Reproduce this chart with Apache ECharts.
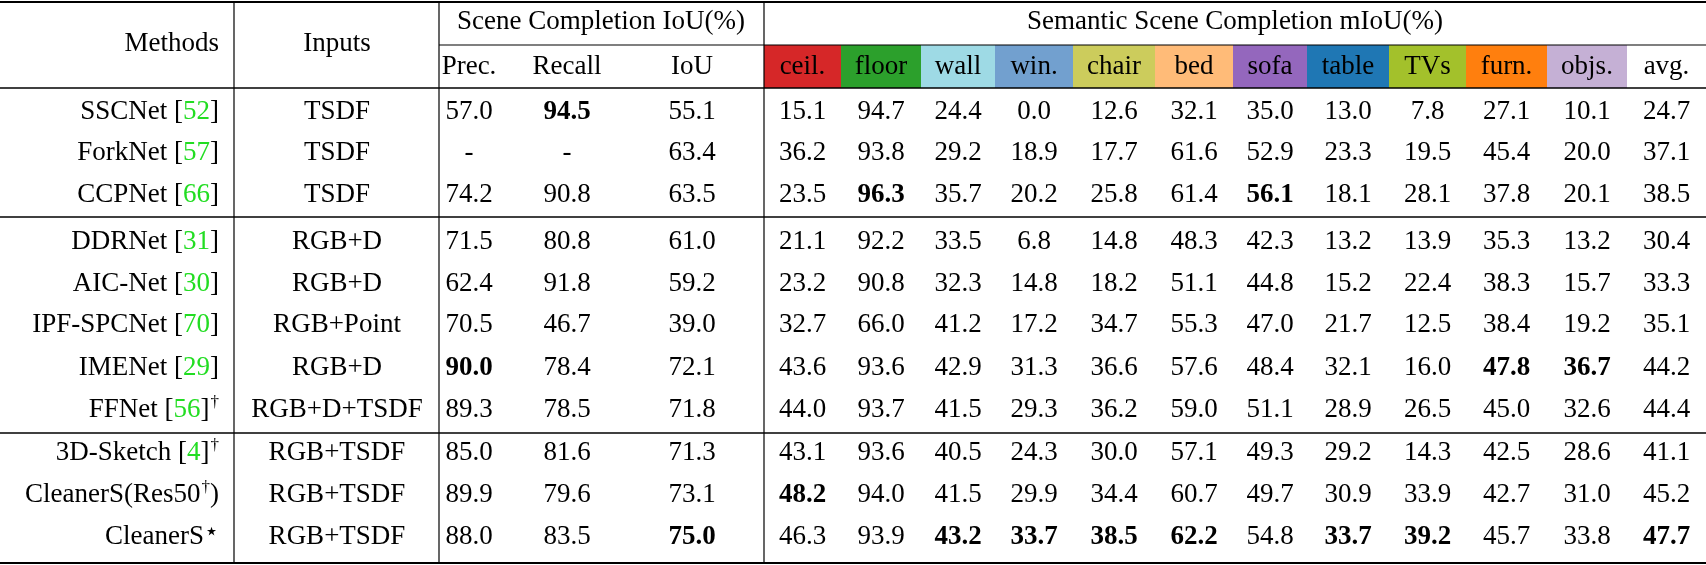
<!DOCTYPE html>
<html><head><meta charset="utf-8">
<script src="https://cdn.jsdelivr.net/npm/echarts@6/dist/echarts.min.js"></script>
<style>html,body{margin:0;padding:0;background:#fff}#c{width:1706px;height:565px}</style>
</head><body><div id="c"></div>
<script>
// ---- data ----
const methods = ['SSCNet','ForkNet','CCPNet','DDRNet','AIC-Net','IPF-SPCNet','IMENet','FFNet','3D-Sketch','CleanerS(Res50','CleanerS'];
const refs = ['52','57','66','31','30','70','29','56','4','',''];
const marks = ['','','','','','','','†','†','†)','⋆'];
const inputs = ['TSDF','TSDF','TSDF','RGB+D','RGB+D','RGB+Point','RGB+D','RGB+D+TSDF','RGB+TSDF','RGB+TSDF','RGB+TSDF'];
const scHeaders = ['Prec.','Recall','IoU'];
const prec = ['57.0','-','74.2','71.5','62.4','70.5','90.0','89.3','85.0','89.9','88.0'];
const recall = ['94.5','-','90.8','80.8','91.8','46.7','78.4','78.5','81.6','79.6','83.5'];
const iou = ['55.1','63.4','63.5','61.0','59.2','39.0','72.1','71.8','71.3','73.1','75.0'];
const classes = ['ceil.','floor','wall','win.','chair','bed','sofa','table','TVs','furn.','objs.','avg.'];
const classColors = ['#d62728','#2ca02c','#9edae5','#72a0cf','#cccc5c','#ffbb78','#9467bd','#1f77b4','#a3c12b','#ff7f0e','#c5b0d5','#ffffff'];
const ssc = [
 ['15.1','94.7','24.4','0.0','12.6','32.1','35.0','13.0','7.8','27.1','10.1','24.7'],
 ['36.2','93.8','29.2','18.9','17.7','61.6','52.9','23.3','19.5','45.4','20.0','37.1'],
 ['23.5','96.3','35.7','20.2','25.8','61.4','56.1','18.1','28.1','37.8','20.1','38.5'],
 ['21.1','92.2','33.5','6.8','14.8','48.3','42.3','13.2','13.9','35.3','13.2','30.4'],
 ['23.2','90.8','32.3','14.8','18.2','51.1','44.8','15.2','22.4','38.3','15.7','33.3'],
 ['32.7','66.0','41.2','17.2','34.7','55.3','47.0','21.7','12.5','38.4','19.2','35.1'],
 ['43.6','93.6','42.9','31.3','36.6','57.6','48.4','32.1','16.0','47.8','36.7','44.2'],
 ['44.0','93.7','41.5','29.3','36.2','59.0','51.1','28.9','26.5','45.0','32.6','44.4'],
 ['43.1','93.6','40.5','24.3','30.0','57.1','49.3','29.2','14.3','42.5','28.6','41.1'],
 ['48.2','94.0','41.5','29.9','34.4','60.7','49.7','30.9','33.9','42.7','31.0','45.2'],
 ['46.3','93.9','43.2','33.7','38.5','62.2','54.8','33.7','39.2','45.7','33.8','47.7']
];
// bold cells: [row, column] with column 0..2 = Prec/Recall/IoU, 3.. = classes
const bold = [[0,1],[2,4],[2,9],[6,0],[6,12],[6,13],[9,3],[10,2],[10,5],[10,6],[10,7],[10,8],[10,10],[10,11],[10,14]];

// ---- layout ----
const rowY = [112,153,195,242,284,325,368,410,453,495,537];
const scX = [469,567,692];
const clsB = [764,841,921,995,1073,1155,1233,1307,1389,1466,1547,1627,1706];
const FONT = 'Liberation Serif, Times New Roman, serif';
const FS = 27;

const isBold = (r,c)=>bold.some(b=>b[0]===r&&b[1]===c);
const cells = [];
for (let r=0;r<methods.length;r++){
  [prec[r],recall[r],iou[r]].forEach((v,c)=>cells.push([scX[c],rowY[r],v,isBold(r,c)?1:0,'c']));
  ssc[r].forEach((v,k)=>cells.push([(clsB[k]+clsB[k+1])/2,rowY[r],v,isBold(r,k+3)?1:0,'c']));
  cells.push([337,rowY[r],inputs[r],0,'c']);
  cells.push([219,rowY[r],'m'+r,0,'m']);
}
const headers = [[219,44,'Methods','r'],[337,44,'Inputs','c'],[601,22,'Scene Completion IoU(%)','c'],[1235,22,'Semantic Scene Completion mIoU(%)','c']];
scHeaders.forEach((h,i)=>headers.push([scX[i],67,h,'c']));
classes.forEach((h,i)=>headers.push([(clsB[i]+clsB[i+1])/2,67,h,'c']));

const lines = [
 [0,2,1706,2,2],[439,45,1706,45,1.2],[0,88,1706,88,1.5],[0,217,1706,217,1.5],[0,433,1706,433,1.5],[0,563,1706,563,2],
 [234,2,234,563,1.2],[439,2,439,563,1.2],[764,2,764,563,1.2]
];

const chart = echarts.init(document.getElementById('c'));
function methodText(r){
  let s = '{n|'+methods[r]+(refs[r]?' [':'')+'}';
  if (refs[r]) s += '{g|'+refs[r]+'}{n|]}';
  if (marks[r]==='†)') s += '{s|†}{n|)}';
  else if (marks[r]==='⋆') s += '{t|⋆}';
  else if (marks[r]) s += '{s|'+marks[r]+'}';
  return s;
}
chart.setOption({
  animation:false,
  grid:{left:0,right:0,top:0,bottom:0},
  xAxis:{type:'value',min:0,max:1706,show:false},
  yAxis:{type:'value',min:0,max:565,inverse:true,show:false},
  series:[
    {type:'custom',data:classes.map((c,i)=>[clsB[i],45,clsB[i+1],88,i]),
     renderItem:(p,api)=>{const a=api.coord([api.value(0),api.value(1)]),b=api.coord([api.value(2),api.value(3)]);
       return {type:'rect',shape:{x:a[0],y:a[1],width:b[0]-a[0],height:b[1]-a[1]},style:{fill:classColors[api.value(4)]}};}},
    {type:'custom',data:lines,
     renderItem:(p,api)=>{const a=api.coord([api.value(0),api.value(1)]),b=api.coord([api.value(2),api.value(3)]);
       return {type:'line',shape:{x1:a[0],y1:a[1],x2:b[0],y2:b[1]},style:{stroke:'#000',lineWidth:api.value(4)}};}},
    {type:'custom',data:headers,
     renderItem:(p,api)=>{const d=headers[p.dataIndex];const a=api.coord([d[0],d[1]]);
       return {type:'text',x:a[0],y:a[1],style:{text:d[2],font:FS+'px '+FONT,fill:'#000',align:d[3]==='r'?'right':'center',verticalAlign:'middle'}};}},
    {type:'custom',data:cells,
     renderItem:(p,api)=>{const d=cells[p.dataIndex];const a=api.coord([d[0],d[1]]);
       if(d[4]==='m'){const r=+d[2].slice(1);
         return {type:'text',x:a[0],y:a[1],style:{text:methodText(r),align:'right',verticalAlign:'middle',
           rich:{n:{font:FS+'px '+FONT,fill:'#000',lineHeight:32},g:{font:FS+'px '+FONT,fill:'#22dd22',lineHeight:32},
                 s:{font:'17px '+FONT,fill:'#000',verticalAlign:'top',lineHeight:32,padding:[0,0,12,1]},
                 t:{font:'24px DejaVu Sans',fill:'#000',verticalAlign:'top',lineHeight:32,padding:[0,0,10,0]}}}};}
       return {type:'text',x:a[0],y:a[1],style:{text:d[2],font:(d[3]?'bold ':'')+FS+'px '+FONT,fill:'#000',align:'center',verticalAlign:'middle'}};}}
  ]
});
</script></body></html>
